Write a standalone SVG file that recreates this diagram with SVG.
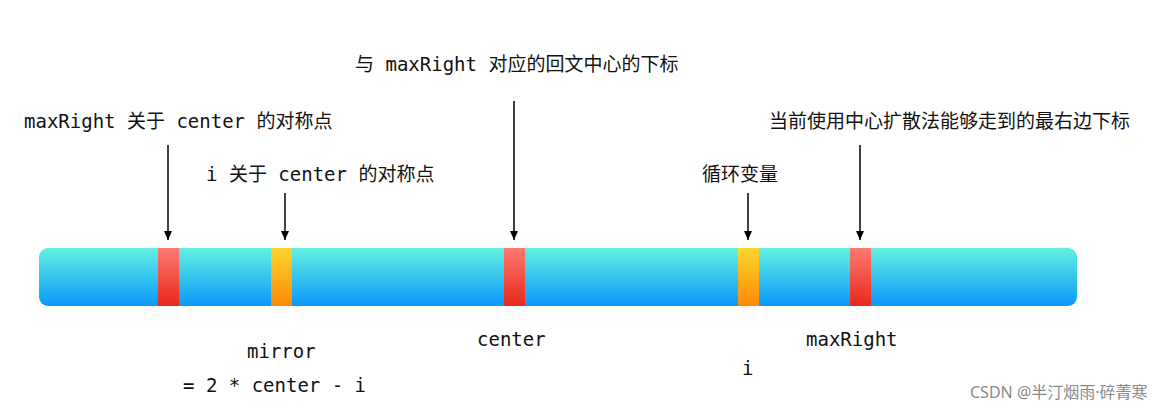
<svg xmlns="http://www.w3.org/2000/svg" width="1172" height="414" viewBox="0 0 1172 414">
<defs>
<linearGradient id="bar" x1="0" y1="0" x2="0" y2="1"><stop offset="0" stop-color="#62f0e2"/><stop offset="1" stop-color="#0a98fa"/></linearGradient>
<linearGradient id="red" x1="0" y1="0" x2="0" y2="1"><stop offset="0" stop-color="#fd7a72"/><stop offset="1" stop-color="#e8281c"/></linearGradient>
<linearGradient id="org" x1="0" y1="0" x2="0" y2="1"><stop offset="0" stop-color="#fbd62c"/><stop offset="1" stop-color="#fd8a08"/></linearGradient>
<marker id="ah" markerWidth="10" markerHeight="10" refX="5" refY="8" orient="auto" markerUnits="userSpaceOnUse"><path d="M0,0 L10,0 L5,8 Z" fill="#000" transform="rotate(-90 5 5) translate(0,0)"/></marker>
<marker id="a" markerWidth="10" markerHeight="10" refX="9" refY="5" orient="auto" markerUnits="userSpaceOnUse"><path d="M0,1 L9,5 L0,9 Z" fill="#000"/></marker>
</defs>
<style>
text{font-family:"DejaVu Sans Mono","Noto Sans CJK SC",monospace;font-size:19px;fill:#111}
.c{line-height:1}
line{stroke:#000;stroke-width:1.5}
</style>
<rect width="1172" height="414" fill="#fff"/>
<g id="bar"><rect x="39" y="248" width="1038" height="58" rx="9" fill="url(#bar)"/></g>
<g id="slot-mirror-of-maxRight"><rect x="158" y="248" width="21" height="58" fill="url(#red)"/></g>
<g id="slot-mirror"><rect x="271" y="248" width="21" height="58" fill="url(#org)"/></g>
<g id="slot-center"><rect x="504" y="248" width="21" height="58" fill="url(#red)"/></g>
<g id="slot-i"><rect x="738" y="248" width="21" height="58" fill="url(#org)"/></g>
<g id="slot-maxRight"><rect x="850" y="248" width="21" height="58" fill="url(#red)"/></g>
<g id="connectors">
<line x1="168" y1="145" x2="168" y2="240" marker-end="url(#a)"/>
<line x1="285" y1="193" x2="285" y2="240" marker-end="url(#a)"/>
<line x1="514" y1="101" x2="514" y2="240" marker-end="url(#a)"/>
<line x1="748" y1="193" x2="748" y2="240" marker-end="url(#a)"/>
<line x1="860" y1="145" x2="860" y2="240" marker-end="url(#a)"/>
</g>
<g id="labels">
<text x="355" y="71">与 maxRight 对应的回文中心的下标</text>
<text x="24" y="128">maxRight 关于 center 的对称点</text>
<text x="206" y="181">i 关于 center 的对称点</text>
<text x="702" y="181">循环变量</text>
<text x="769" y="128">当前使用中心扩散法能够走到的最右边下标</text>
<text x="247" y="358">mirror</text>
<text x="183" y="392">= 2 * center - i</text>
<text x="477" y="346">center</text>
<text x="742" y="375">i</text>
<text x="806" y="346">maxRight</text>
</g>
<text x="970" y="398" style="font-family:'Noto Sans','Noto Sans CJK SC',sans-serif;font-size:16px;fill:#8a8a8a">CSDN @半汀烟雨·碎菁寒</text>
</svg>
